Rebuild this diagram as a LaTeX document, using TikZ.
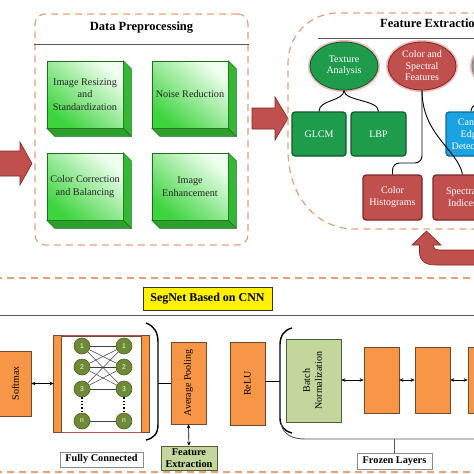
\documentclass[tikz,border=0pt]{standalone}
\usepackage{fontspec}
\usepackage{graphicx}
\setmainfont{Liberation Serif}
\setsansfont{Liberation Sans}
\usetikzlibrary{shapes.geometric,arrows.meta,calc}
\definecolor{dashc}{HTML}{E3A27A}
\definecolor{gfront}{HTML}{3ED43E}
\definecolor{glight}{HTML}{F0FFF0}
\definecolor{gside}{HTML}{34B834}
\definecolor{gbot}{HTML}{2DA02D}
\definecolor{gedge}{HTML}{1F6E1F}
\definecolor{tgreen}{HTML}{1E9C4C}
\definecolor{tgreenD}{HTML}{0E5A2A}
\definecolor{cred}{HTML}{C0504D}
\definecolor{credD}{HTML}{7F2624}
\definecolor{cblue}{HTML}{1AA3E0}
\definecolor{cblueD}{HTML}{0E6A96}
\definecolor{cgray}{HTML}{9E9E9E}
\definecolor{orng}{HTML}{F79646}
\definecolor{orngD}{HTML}{6E4A30}
\definecolor{olive}{HTML}{C3D69B}
\definecolor{oliveD}{HTML}{4F5F3A}
\definecolor{circ}{HTML}{6F8A35}
\definecolor{circD}{HTML}{4F6228}
\definecolor{halo}{HTML}{F2B8B8}
\definecolor{lineg}{HTML}{595959}
\newcommand{\cuboid}[3]{%
  \node[gface] (#1) at (#2) {#3};
  \filldraw[draw=gedge, fill=gside, line width=0.5pt] (#1.north east) -- ++(8,8) -- ($(#1.south east)+(8,8)$) -- (#1.south east) -- cycle;
  \filldraw[draw=gedge, fill=gbot, line width=0.5pt] (#1.south west) -- ++(8,8) -- ($(#1.south east)+(8,8)$) -- (#1.south east) -- cycle;
}
\begin{document}
\begin{tikzpicture}[x=1pt,y=-1pt,
  dashbox/.style={draw=dashc, line width=1.2pt, dash pattern=on 7pt off 5pt},
  hline/.style={draw=lineg, line width=1pt},
  title/.style={font=\bfseries\fontsize{12.5}{14}\selectfont, inner sep=0pt},
  gface/.style={rectangle, draw=gedge, line width=0.5pt, minimum width=76pt, minimum height=67pt,
    inner sep=1pt, align=center, top color=glight, bottom color=gfront, shading angle=-40,
    font=\fontsize{10.2}{12.5}\selectfont, text=black!85},
  ell/.style={ellipse, minimum width=68pt, minimum height=48pt, inner sep=0pt, align=center,
    text=white, font=\fontsize{10}{11.5}\selectfont, line width=0.8pt,
    preaction={draw=halo, line width=4pt}},
  rbox/.style={rectangle, rounded corners=3pt, inner sep=0pt, align=center, text=white,
    font=\fontsize{10}{12}\selectfont, line width=1.2pt},
  redarrow/.style={fill=cred, draw=credD, line width=0.6pt},
  conn/.style={draw=black, line width=0.9pt},
  obox/.style={rectangle, fill=orng, draw=orngD, line width=0.7pt, inner sep=0pt,
    font=\fontsize{10}{12}\selectfont},
  gbox/.style={rectangle, fill=olive, draw=oliveD, line width=0.7pt, inner sep=0pt,
    font=\fontsize{10}{12}\selectfont},
  lbox/.style={rectangle, fill=white, draw=lineg!70, line width=0.8pt, inner sep=0pt,
    font=\bfseries\fontsize{10.3}{12}\selectfont},
  neuron/.style={circle, fill=circ, draw=circD, line width=0.6pt, minimum size=16pt, inner sep=0pt,
    text=white, font=\sffamily\fontsize{6.8}{7}\selectfont},
  nl/.style={draw=black!75, line width=0.5pt},
  brk/.style={draw=black, line width=1.4pt},
  dbl/.style={{Stealth[length=4pt,width=3.6pt]}-{Stealth[length=4pt,width=3.6pt]}, line width=0.7pt}
]
\useasboundingbox (0,0) rectangle (474,474);
\clip (0,0) rectangle (474,474);
\fill[white] (0,0) rectangle (474,474);

% ---------------- Data preprocessing ----------------
\node[dashbox, rounded corners=10pt, minimum width=213pt, minimum height=231pt, inner sep=0pt] (dpbox) at (141.5,129.5) {};
\node[title] (dptitle) at (141.5,28) {Data Preprocessing};
\draw[hline] (dpbox.west |- 0,44) -- (dpbox.east |- 0,44);
\cuboid{g1}{85,94.5}{Image Resizing\\and\\Standardization}
\cuboid{g2}{190,94.5}{Noise Reduction}
\cuboid{g3}{85,186.5}{Color Correction\\and Balancing}
\cuboid{g4}{190,186.5}{Image\\Enhancement}

% block arrows
\filldraw[redarrow] (-5,151) -- (20,151) -- (20,142) -- (32,163.5) -- (20,185) -- (20,176) -- (-5,176) -- cycle;
\filldraw[redarrow] (252,108) -- (275,108) -- (275,97) -- (288,118.5) -- (275,140) -- (275,129) -- (252,129) -- cycle;

% ---------------- Feature extraction ----------------
\draw[dashbox] (480,13) -- (338,13) .. controls (310,13) and (288,35) .. (288,63) -- (288,150)
  .. controls (288,195) and (315,229) .. (355,229) -- (480,229);
\node[title, anchor=west] (fetitle) at (380,23) {Feature Extraction};
\draw[hline] (318,38) -- (480,38);

\node[ell, fill=tgreen, draw=tgreenD] (ta) at (344,66) {Texture\\Analysis};
\node[ell, fill=cred, draw=credD] (cs) at (422,66) {Color and\\Spectral\\Features};
\node[ell, fill=cgray, draw=black!50] (ge) at (506,66) {};

\node[rbox, fill=tgreen, draw=tgreenD, minimum width=54pt, minimum height=44pt] (glcm) at (319,134) {GLCM};
\node[rbox, fill=tgreen, draw=tgreenD, minimum width=55pt, minimum height=44pt] (lbp) at (378.5,134) {LBP};
\node[rbox, fill=cblue, draw=cblueD, minimum width=50pt, minimum height=44pt] (canny) at (471,134) {Canny\\Edge\\Detection};
\node[rbox, fill=cred, draw=credD, minimum width=59pt, minimum height=45pt] (ch) at (392.5,197.5) {Color\\Histograms};
\node[rbox, fill=cred, draw=credD, minimum width=59pt, minimum height=45pt] (si) at (462.5,197.5) {Spectral\\Indices};

\draw[conn] (ta.south) .. controls +(0,11) and +(0,-12) .. (glcm.north);
\draw[conn] (ta.south) .. controls +(0,11) and +(0,-12) .. (lbp.north);
\draw[conn, rounded corners=7pt] (cs.south) -- (422,163) -- (392.5,163) -- (ch.north);
\draw[conn] (cs.south) .. controls (422,135) and (458,150) .. (si.north);
\draw[conn] (ge.south) .. controls +(0,14) and +(0,-14) .. (canny.north);

% U-turn arrow
\filldraw[redarrow] (480,250) -- (440,250) .. controls (435,250) and (433,248) .. (433,245)
  -- (441,245) -- (426.5,231) -- (412,245) -- (419.5,245) -- (419.5,252)
  .. controls (419.5,261) and (425,265) .. (436,265) -- (480,265) -- cycle;

% separator
\draw[dashbox] (-5,278) -- (480,278);
\draw[dashbox] (-5,472) -- (480,472);

% ---------------- SegNet ----------------
\node[rectangle, fill=yellow, draw=black!80, line width=0.8pt, minimum width=129pt, minimum height=23pt,
  inner sep=0pt, font=\bfseries\fontsize{12}{13}\selectfont] (seg) at (207.5,298.5) {SegNet Based on CNN};
\draw[hline] (-5,315) -- (480,315);

\node[obox, minimum width=41pt, minimum height=65pt] (softmax) at (10.5,383.5) {};
\node[inner sep=0pt, font=\fontsize{10}{12}\selectfont] (smtext) at (15.5,383.5) {\rotatebox{90}{Softmax}};

% fully connected block
\node[rectangle, fill=white, draw=orngD, line width=0.7pt, minimum width=95pt, minimum height=96pt, inner sep=0pt] (fc) at (101.5,384) {};
\filldraw[fill=orng, draw=orngD, line width=0.7pt] (fc.north west) rectangle ($(fc.south west)+(8,0)$);
\filldraw[fill=orng, draw=orngD, line width=0.7pt] ($(fc.north east)+(-8,0)$) rectangle (fc.south east);
\draw[cred, line width=0.8pt] ($(fc.north west)+(8,0)$) -- ($(fc.north east)+(-8,0)$);
\draw[cred, line width=0.8pt] ($(fc.south west)+(8,0)$) -- ($(fc.south east)+(-8,0)$);

\node[neuron] (l1) at (82,346) {1};
\node[neuron] (l2) at (82,367) {2};
\node[neuron] (l3) at (82,389) {3};
\node[neuron] (ln) at (82,421) {n};
\node[neuron] (r1) at (124,346) {1};
\node[neuron] (r2) at (124,367) {2};
\node[neuron] (r3) at (124,389) {3};
\node[neuron] (rn) at (124,421) {n};
\foreach \a in {1,2,3}{\foreach \b in {1,2,3}{\draw[nl] (l\a) -- (r\b);}}
\draw[nl] (ln) -- (rn);
\draw[dotted, line width=1.3pt] (l3.south) -- (ln.north);
\draw[dotted, line width=1.3pt] (r3.south) -- (rn.north);

\draw[dbl] (softmax.east |- 0,383.5) -- (fc.west |- 0,383.5);

\draw[brk] (146,323) .. controls (154,326) and (158,332) .. (158,342) -- (158,424) .. controls (158,434) and (154,438) .. (146,440);
\coordinate (fcb) at (158,383);

\node[obox, minimum width=35pt, minimum height=82pt] (avg) at (188.5,383) {\rotatebox{90}{Average Pooling}};
\draw[conn] (fcb) -- (avg.west);
\node[gbox, minimum width=56pt, minimum height=24pt, align=center, font=\bfseries\fontsize{10.3}{12}\selectfont] (fext) at (189,458) {Feature\\Extraction};
\draw[dbl] (avg.south) -- (fext.north);
\node[lbox, minimum width=83pt, minimum height=15pt] (fclab) at (101.5,459.5) {Fully Connected};

\node[obox, minimum width=35pt, minimum height=83pt] (relu) at (247.5,383.5) {\rotatebox{90}{ReLU}};
\draw[brk] (292,328) .. controls (284,330) and (280,336) .. (280,345) -- (280,418) .. controls (280,426) and (284,431) .. (292,433);
\coordinate (relub) at (280,381);
\draw[conn] (relub -| relu.east) -- (relub);
\draw[draw=lineg, line width=0.9pt] (281,424) .. controls (284,435) and (292,439) .. (306,439) -- (480,439);
\coordinate (frz) at (394.5,439);
\node[lbox, minimum width=75pt, minimum height=16pt] (frozen) at (394.5,461) {Frozen Layers};
\draw[draw=lineg, line width=0.9pt] (frz) -- (frozen.north);

\node[gbox, minimum width=55pt, minimum height=83pt] (bn) at (313.5,380.5) {\rotatebox{90}{\begin{tabular}{@{}c@{}}Batch\\Normalization\end{tabular}}};
\node[obox, minimum width=35pt, minimum height=66pt] (o1) at (381.5,380) {};
\node[obox, minimum width=35pt, minimum height=66pt] (o2) at (432.5,380) {};
\node[obox, minimum width=35pt, minimum height=66pt] (o3) at (485.5,380) {};
\draw[dbl] (bn.east |- o1.west) -- (o1.west);
\draw[dbl] (o1.east) -- (o2.west);
\draw[dbl] (o2.east) -- (o3.west);
\end{tikzpicture}
\end{document}
